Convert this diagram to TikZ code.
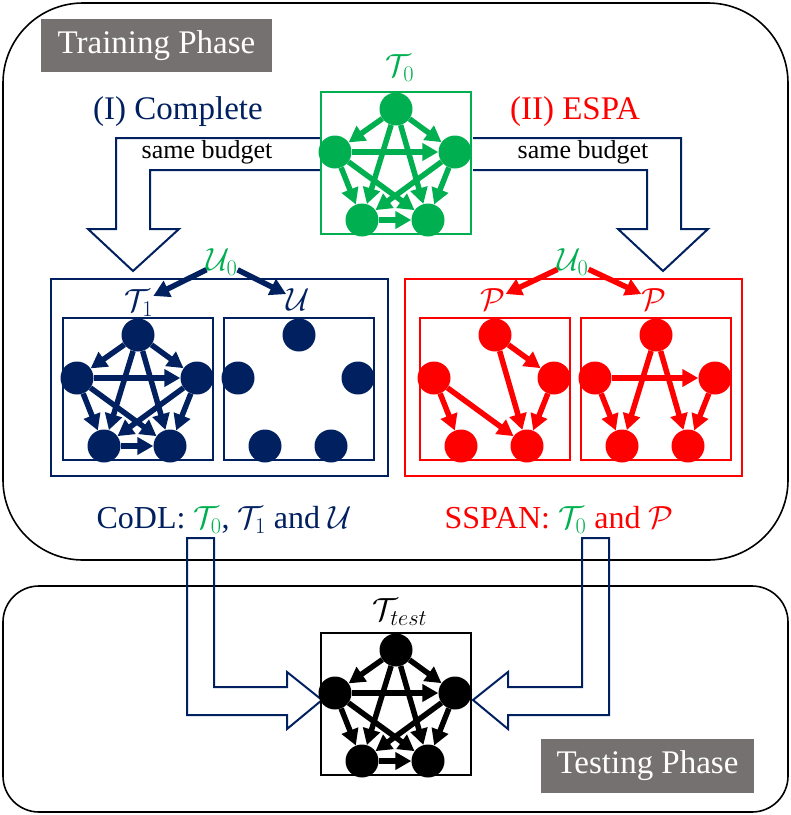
\RequirePackage{fix-cm}
\documentclass[tikz,border=0pt]{standalone}
\usepackage{fontspec}
\setmainfont{Liberation Serif}
\usepackage{amsmath}
\usetikzlibrary{arrows.meta}
\definecolor{navy}{HTML}{002060}
\definecolor{grn}{HTML}{00B050}
\definecolor{labelgray}{HTML}{767171}

\begin{document}
\begin{tikzpicture}[x=1pt, y=-1pt,
  vtx/.style={circle, inner sep=0pt, minimum size=33pt},
  edge/.style={line width=5.5pt, -{Triangle[length=16pt,width=17pt]}},
  gbox/.style={line width=1.6pt},
  phasebox/.style={line width=1.6pt},
  bigarrow/.style={draw=navy, line width=2pt, line join=miter},
  phase/.style={fill=labelgray, text=white, font=\fontsize{33}{33}\selectfont, inner sep=0pt},
  title/.style={font=\fontsize{33}{40}\selectfont},
  budget/.style={font=\fontsize{26}{30}\selectfont},
  mlabel/.style={font=\fontsize{32}{36}\selectfont, inner sep=0pt}]
  \useasboundingbox (0,0) rectangle (791,815);
  % five vertices of a graph: name, box x, box y, colour
  \def\fivenodes#1#2#3#4{%
    \draw[gbox, draw=#4] (#2,#3) rectangle ++(150,142);
    \node[vtx, fill=#4] (#1t)  at (#2+75,#3+17)  {};
    \node[vtx, fill=#4] (#1l)  at (#2+14,#3+60)  {};
    \node[vtx, fill=#4] (#1r)  at (#2+134,#3+60) {};
    \node[vtx, fill=#4] (#1bl) at (#2+41,#3+128) {};
    \node[vtx, fill=#4] (#1br) at (#2+107,#3+128) {};
  }
  % phases
  \draw[phasebox, rounded corners=80pt] (3,3) rectangle (788,560);
  \draw[phasebox, rounded corners=36pt] (3,586) rectangle (788,812);
  \fill[labelgray] (41,19) rectangle (272,72);
  \node[phase] (train) at (156.5,45.5) {Training Phase};
  \fill[labelgray] (541,739) rectangle (754,793);
  \node[phase] (test) at (647.5,766) {Testing Phase};

  % block arrows
  \draw[bigarrow] (321,138) -- (116,138) -- (116,229) -- (88,229) -- (133,271)
    -- (179,229) -- (150,229) -- (150,170) -- (321,170);
  \draw[bigarrow] (473,138) -- (681,138) -- (681,229) -- (708,229) -- (663,271)
    -- (618,229) -- (647,229) -- (647,170) -- (473,170);
  \draw[bigarrow] (187,538) -- (214,538) -- (214,687) -- (287,687) -- (287,672)
    -- (322,700) -- (287,729) -- (287,715) -- (187,715) -- cycle;
  \draw[bigarrow] (609,538) -- (582,538) -- (582,687) -- (508,687) -- (508,672)
    -- (473,700) -- (508,729) -- (508,715) -- (609,715) -- cycle;
  \node[budget] (bl) at (207,152) {same budget};
  \node[budget] (br) at (583,152) {same budget};
  \node[title, text=navy] (complete) at (178,112) {(I) Complete};
  \node[title, text=red] (espa) at (575,112) {(II) ESPA};

  % outer method boxes
  \draw[gbox, draw=navy] (51,279) rectangle (388,476);
  \draw[gbox, draw=red] (405,279) rectangle (742,476);

  % graphs
  \fivenodes{A}{321}{92}{grn}
  \fivenodes{B}{63}{318}{navy}
  \fivenodes{C}{224}{318}{navy}
  \fivenodes{D}{420}{318}{red}
  \fivenodes{E}{581}{318}{red}
  \fivenodes{F}{321}{633}{black}
  \foreach \g/\c in {A/grn,B/navy,F/black}
    \foreach \a/\b in {t/l,t/r,t/bl,t/br,l/r,l/bl,l/br,r/bl,r/br,bl/br}
      \draw[edge, draw=\c, fill=\c] (\g\a) -- (\g\b);
  \foreach \a/\b in {t/r,t/br,l/bl,l/br,r/br}
    \draw[edge, draw=red, fill=red] (D\a) -- (D\b);
  \foreach \a/\b in {l/r,t/bl,t/br,l/bl,r/br}
    \draw[edge, draw=red, fill=red] (E\a) -- (E\b);

  % graph labels
  \node[mlabel, text=grn] (T0) at (400,68) {$\mathcal{T}_0$};
  \node[mlabel, text=black] (Ttest) at (400,612) {$\mathcal{T}_{test}$};
  \node[mlabel, text=navy] (T1) at (139,303) {$\mathcal{T}_1$};
  \node[mlabel, text=navy] (U) at (298,300) {$\mathcal{U}$};
  \node[mlabel, text=grn] (U0a) at (222,262) {$\mathcal{U}_0$};
  \node[mlabel, text=red] (P1) at (493,300) {$\mathcal{P}$};
  \node[mlabel, text=red] (P2) at (654,300) {$\mathcal{P}$};
  \node[mlabel, text=grn] (U0b) at (573,262) {$\mathcal{U}_0$};
  \draw[edge, draw=navy, fill=navy] (U0a) -- (T1);
  \draw[edge, draw=navy, fill=navy] (U0a) -- (U);
  \draw[edge, draw=red, fill=red] (U0b) -- (P1);
  \draw[edge, draw=red, fill=red] (U0b) -- (P2);

  % method names
  \node[title, font=\fontsize{32}{38}\selectfont, text=navy] (codl) at (224,520)
    {CoDL: \textcolor{grn}{$\mathcal{T}_0$}, $\mathcal{T}_1$ and $\mathcal{U}$};
  \node[title, font=\fontsize{32}{38}\selectfont, text=red] (sspan) at (559,520)
    {SSPAN: \textcolor{grn}{$\mathcal{T}_0$} and $\mathcal{P}$};
\end{tikzpicture}
\end{document}
